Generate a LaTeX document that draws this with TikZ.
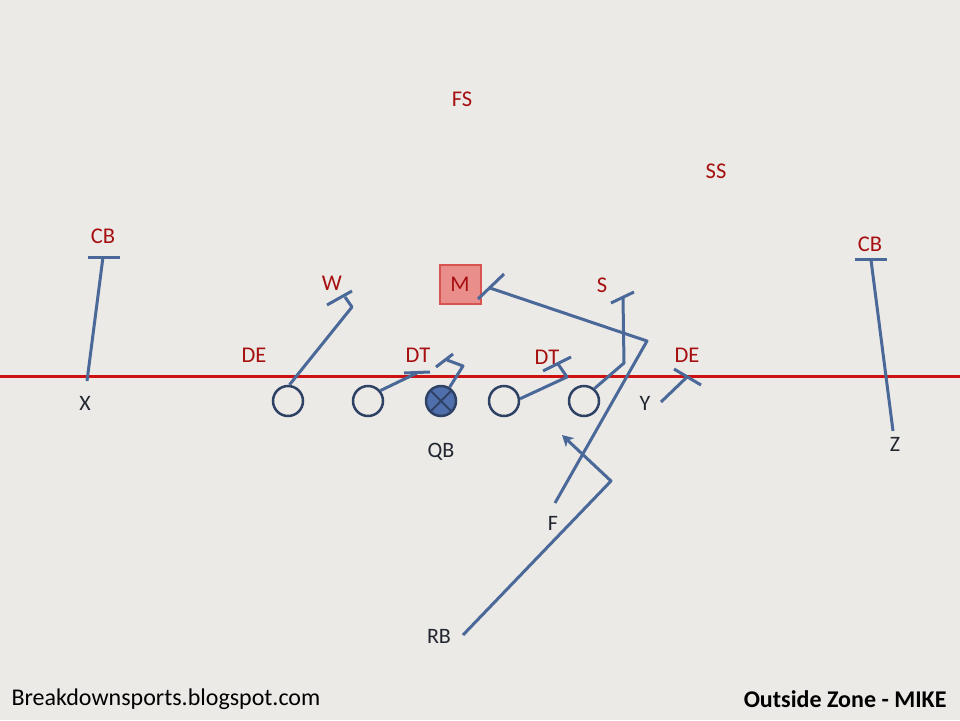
\documentclass[tikz,border=0pt]{standalone}
\usepackage{fontspec}
\setmainfont{Carlito}
\usepackage{tikz}
\usetikzlibrary{arrows.meta,positioning}

\definecolor{field}{RGB}{236,234,231}
\definecolor{scrim}{RGB}{206,18,18}
\definecolor{defred}{RGB}{166,16,16}
\definecolor{route}{RGB}{74,104,152}
\definecolor{oline}{RGB}{46,66,100}
\definecolor{qbfill}{RGB}{78,110,172}
\definecolor{mfill}{RGB}{234,142,140}
\definecolor{mdraw}{RGB}{216,84,80}
\definecolor{offtext}{RGB}{34,38,48}

\begin{document}
\begin{tikzpicture}
		[
			x=1pt, y=-1pt,
			defense/.style={text=defred, inner sep=0pt, font=\fontsize{22.5}{26}\selectfont},
			offense/.style={text=offtext, inner sep=0pt, font=\fontsize{22}{26}\selectfont},
			lineman/.style={circle, draw=oline, line width=2.5pt, minimum size=30pt, inner sep=0pt},
			mbox/.style={draw=mdraw, fill=mfill, line width=2pt, minimum width=41pt, minimum height=39pt, inner sep=0pt},
			block/.style={draw=route, line width=3pt, line join=round},
			los/.style={draw=scrim, line width=3pt}
		]

		% field
		\path[use as bounding box, fill=field] (0,0) rectangle (960,720);

		% line of scrimmage
		\coordinate (losl) at (   0, 376 );
		\coordinate (losr) at ( 960, 376 );
		\draw[los] (losl) -- (losr);

		% offensive line
		\node[lineman] (lt) at ( 288, 401 ) {};
		\node[lineman] (lg) at ( 368, 401 ) {};
		\node[lineman,fill=qbfill,
			path picture={\draw[oline,line width=2pt]
				(path picture bounding box.north west) -- (path picture bounding box.south east)
				(path picture bounding box.north east) -- (path picture bounding box.south west);}]
			(c) at ( 441, 401 ) {};
		\node[lineman] (rg) at ( 504, 401 ) {};
		\node[lineman] (rt) at ( 584, 401 ) {};

		% skill players
		\node[offense] (x)  at (  85, 403 ) {X};
		\node[offense] (y)  at ( 645, 403 ) {Y};
		\node[offense] (z)  at ( 895, 444 ) {Z};
		\node[offense] (qb) at ( 441, 452 ) {QB};
		\node[offense] (f)  at ( 553, 523 ) {F};
		\node[offense] (rb) at ( 439, 636 ) {RB};

		% defense
		\node[defense] (fs)  at ( 462,  99 ) {FS};
		\node[defense] (ss)  at ( 716, 171 ) {SS};
		\node[defense] (cbl) at ( 103, 236 ) {CB};
		\node[defense] (cbr) at ( 870, 244 ) {CB};
		\node[defense] (w)   at ( 332, 283 ) {W};
		\node[mbox,defense] (m) at ( 460, 284 ) {M};
		\node[defense] (s)   at ( 602, 285 ) {S};
		\node[defense] (del) at ( 254, 355 ) {DE};
		\node[defense] (dtl) at ( 418, 355 ) {DT};
		\node[defense] (dtr) at ( 547, 357 ) {DT};
		\node[defense] (der) at ( 687, 355 ) {DE};

		% block points
		\coordinate (xs)  at (  87, 381 );
		\coordinate (xb)  at ( 103, 257 );
		\coordinate (xb1) at (  88, 257 );
		\coordinate (xb2) at ( 120, 257 );
		\coordinate (zs)  at ( 893, 431 );
		\coordinate (zb)  at ( 871, 260 );
		\coordinate (zb1) at ( 855, 259 );
		\coordinate (zb2) at ( 887, 259 );
		\coordinate (lt1) at ( 352, 307 );
		\coordinate (ltb) at ( 345, 297 );
		\coordinate (ltb1) at ( 327, 305 );
		\coordinate (ltb2) at ( 352, 291 );
		\coordinate (lgb) at ( 417, 373 );
		\coordinate (lgb1) at ( 404, 373 );
		\coordinate (lgb2) at ( 430, 372 );
		\coordinate (c1)  at ( 463, 366 );
		\coordinate (cb)  at ( 447, 360 );
		\coordinate (cb1) at ( 436, 367 );
		\coordinate (cb2) at ( 453, 354 );
		\coordinate (rg1) at ( 567, 377 );
		\coordinate (rgb) at ( 558, 364 );
		\coordinate (rgb1) at ( 543, 371 );
		\coordinate (rgb2) at ( 571, 357 );
		\coordinate (rt1) at ( 624, 363 );
		\coordinate (rtb) at ( 623, 298 );
		\coordinate (rtb1) at ( 611, 303 );
		\coordinate (rtb2) at ( 634, 292 );
		\coordinate (ys)  at ( 661, 402 );
		\coordinate (yb)  at ( 687, 377 );
		\coordinate (yb1) at ( 674, 369 );
		\coordinate (yb2) at ( 701, 385 );
		\coordinate (fs1) at ( 555, 503 );
		\coordinate (f1)  at ( 647, 341 );
		\coordinate (fb)  at ( 490, 288 );
		\coordinate (fb1) at ( 478, 299 );
		\coordinate (fb2) at ( 504, 274 );
		\coordinate (rbs) at ( 463, 635 );
		\coordinate (rb1) at ( 611, 481 );
		\coordinate (rbe) at ( 562, 435 );

		% blocks
		\foreach \from/\to in {xs/xb,zs/zb,lg.40/lgb,ys/yb}
		\draw[block] (\from) -- (\to);

		\draw[block] (lt.85) -- (lt1) -- (ltb);
		\draw[block] (c.58) -- (c1) -- (cb);
		\draw[block] (rg.8) -- (rg1) -- (rgb);
		\draw[block] (rt.50) -- (rt1) -- (rtb);
		\draw[block] (fs1) -- (f1) -- (fb);

		% block bars
		\foreach \bar in {xb,zb,ltb,lgb,cb,rgb,rtb,yb,fb}
		\draw[block] (\bar1) -- (\bar2);

		% running back path
		\draw[block,-{Stealth[length=11pt,width=12pt,inset=3pt]}] (rbs) -- (rb1) -- (rbe);

		% captions
		\node[anchor=west, text=black, font=\fontsize{24}{28}\selectfont] (site) at (   8, 699 ) {Breakdownsports.blogspot.com};
		\node[anchor=east, text=black, font=\fontsize{24}{28}\selectfont\bfseries] (play) at ( 950, 699 ) {Outside Zone - MIKE};

	\end{tikzpicture}
\end{document}
